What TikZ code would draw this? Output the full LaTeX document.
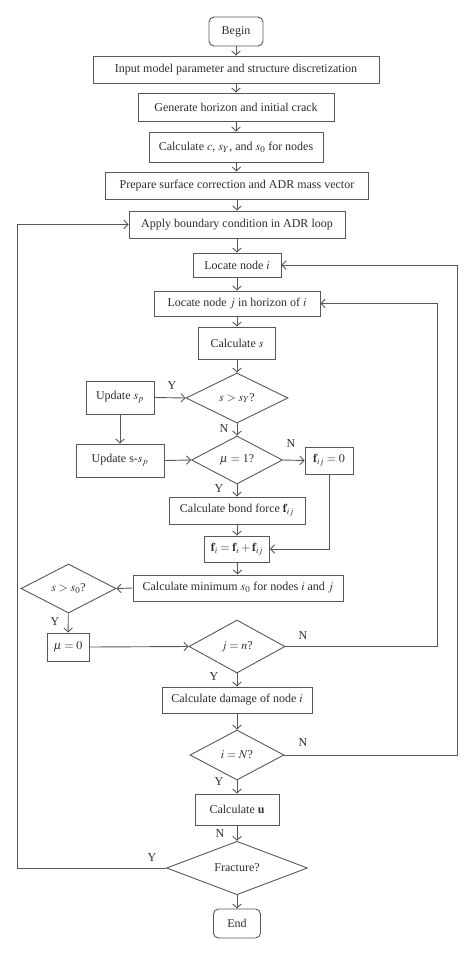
\documentclass[tikz,border=0pt]{standalone}
\usepackage{mathptmx}
\usepackage[no-math]{fontspec}
\setmainfont{Liberation Serif}
\usetikzlibrary{shapes.geometric,arrows.meta}

\definecolor{linegray}{RGB}{88,88,88}
\definecolor{txtgray}{RGB}{45,45,45}

\begin{document}
\begin{tikzpicture}
    [%%%%%%%%%%%%%%%%%%%%%%%%%%%%%%
    x=1pt,y=-1pt,
    every node/.style={text=txtgray,font=\fontsize{12}{14}\selectfont},
    box/.style={rectangle,draw=linegray,line width=0.9pt,minimum height=27pt,inner sep=2pt},
    term/.style={box,rounded corners=5pt},
    decision/.style={diamond,draw=linegray,line width=0.9pt,inner sep=0pt},
    lbl/.style={inner sep=0pt},
    flow/.style={draw=linegray,line width=0.9pt,-{Straight Barb[length=4pt,width=8.5pt]}},
    ]%%%%%%%%%%%%%%%%%%%%%%%%%%%%%%

    \useasboundingbox (0,0) rectangle (474,955);

    % main column
    \node[term,minimum width=54pt,minimum height=29pt] at (236,31.5) (begin) {Begin};
    \node[box,minimum width=286pt] at (236,69.5) (input) {Input model parameter and structure discretization};
    \node[box,minimum width=196pt,minimum height=28pt] at (236,107) (horizon) {Generate horizon and initial crack};
    \node[box,minimum width=174pt,minimum height=30pt] at (236,147) (props) {Calculate $c$, $s_Y$, and $s_0$ for nodes};
    \node[box,minimum width=263pt] at (237,185.5) (prepare) {Prepare surface correction and ADR mass vector};
    \node[box,minimum width=216pt] at (237,224.5) (apply) {Apply boundary condition in ADR loop};
    \node[box,minimum width=88pt,minimum height=24pt] at (237,265) (loci) {Locate node $i$};
    \node[box,minimum width=166pt,minimum height=25pt] at (237,303.5) (locj) {Locate node $j$ in horizon of $i$};
    \node[box,minimum width=77pt,minimum height=32pt] at (237,343) (calcs) {Calculate $s$};
    \node[decision,minimum width=102pt,minimum height=50pt] at (237,398) (yield) {$s > s_Y$?};
    \node[decision,minimum width=91pt,minimum height=48pt] at (237,460) (mu1) {$\mu = 1$?};
    \node[box,minimum width=136pt] at (237,510.5) (bond) {Calculate bond force $\mathbf{f}_{ij}$};
    \node[box,minimum width=65pt,minimum height=26pt] at (237,549) (fsum) {$\mathbf{f}_i = \mathbf{f}_i + \mathbf{f}_{ij}$};
    \node[box,minimum width=210pt,minimum height=26pt] at (238,588) (mins) {Calculate minimum $s_0$ for nodes $i$ and $j$};
    \node[decision,minimum width=96pt,minimum height=53pt] at (237,646.5) (jn) {$j = n$?};
    \node[box,minimum width=150pt,minimum height=26pt] at (237,700) (damage) {Calculate damage of node $i$};
    \node[decision,minimum width=94pt,minimum height=50pt] at (237,755) (iN) {$i = N$?};
    \node[box,minimum width=84pt,minimum height=31pt] at (237,809.5) (calcu) {Calculate $\mathbf{u}$};
    \node[decision,minimum width=141pt,minimum height=52pt] at (237,868) (fract) {Fracture?};
    \node[term,minimum width=47pt,minimum height=29pt] at (237,923.5) (end) {End};

    % side nodes
    \node[box,minimum width=68pt,minimum height=33pt] at (120,397.5) (updsp) {Update $s_p$};
    \node[box,minimum width=88pt,minimum height=33pt] at (120,460.5) (upds) {Update s-$s_p$};
    \node[box,minimum width=48pt] at (329,460.5) (fzero) {$\mathbf{f}_{ij} = 0$};
    \node[decision,minimum width=95pt,minimum height=49pt] at (68.5,588.5) (crit) {$s > s_0$?};
    \node[box,minimum width=42pt,minimum height=28pt] at (68,647) (mu0) {$\mu = 0$};

    % loop corners
    \coordinate (jloop) at (437,646.5);
    \coordinate (iloop) at (457,755);
    \coordinate (floop) at (17,868);

    % straight flow
    \draw[flow] (begin) -- (input);
    \draw[flow] (input) -- (horizon);
    \draw[flow] (horizon) -- (props);
    \draw[flow] (props) -- (prepare);
    \draw[flow] (prepare) -- (apply);
    \draw[flow] (apply) -- (loci);
    \draw[flow] (loci) -- (locj);
    \draw[flow] (locj) -- (calcs);
    \draw[flow] (calcs) -- (yield);
    \draw[flow] (yield) -- (mu1);
    \draw[flow] (mu1) -- (bond);
    \draw[flow] (bond) -- (fsum);
    \draw[flow] (fsum) -- (mins);
    \draw[flow] (jn) -- (damage);
    \draw[flow] (damage) -- (iN);
    \draw[flow] (iN) -- (calcu);
    \draw[flow] (calcu) -- (fract);
    \draw[flow] (fract) -- (end);

    % side flow
    \draw[flow] (updsp.east) -- (yield.west);
    \draw[flow] (updsp) -- (upds);
    \draw[flow] (upds.east) -- (mu1.west);
    \draw[flow] (mu1.east) -- (fzero.west);
    \draw[flow] (fzero.south) |- (fsum.east);
    \draw[flow] (mins.west) -- (crit.east);
    \draw[flow] (crit) -- (mu0);
    \draw[flow] (mu0.east) -- (jn.west);

    % loops
    \draw[flow] (jn.east) -- (jloop) |- (locj.east);
    \draw[flow] (iN.east) -- (iloop) |- (loci.east);
    \draw[flow] (fract.west) -- (floop) |- (apply.west);

    % Y/N labels
    \node[lbl] at (172,386) (lyield) {Y};
    \node[lbl] at (224,429) (lmuin) {N};
    \node[lbl] at (291,444) (lfzero) {N};
    \node[lbl] at (219,489) (lbond) {Y};
    \node[lbl] at (55,622) (lmuzero) {Y};
    \node[lbl] at (303,636) (ljn) {N};
    \node[lbl] at (214,677) (ldamage) {Y};
    \node[lbl] at (303,743) (liN) {N};
    \node[lbl] at (219,782) (lcalcu) {Y};
    \node[lbl] at (220,834) (lfract) {N};
    \node[lbl] at (152,858) (lfloop) {Y};

\end{tikzpicture}
\end{document}
